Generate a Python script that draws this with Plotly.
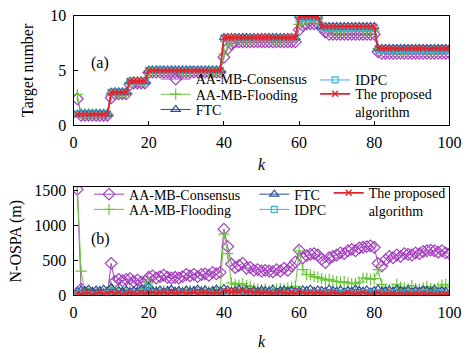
import plotly.graph_objects as go

k = list(range(1, 101))

# ---- (a) estimated target number ----
cons_a = [2.4, 0.9, 0.9, 0.9, 0.9, 0.9, 0.9, 0.9, 0.9, 2.5,
          2.85, 2.85, 2.85, 2.85, 3.7, 3.85, 3.85, 3.85, 3.85, 4.8,
          4.85, 4.85, 4.85, 4.85, 4.85, 4.85, 4.85, 4.85, 4.85, 4.85,
          4.85, 4.85, 4.85, 4.85, 4.85, 4.85, 4.85, 4.85, 4.85, 6.2,
          7.0, 7.4, 7.6, 7.6, 7.6, 7.6, 7.6, 7.6, 7.6, 7.6,
          7.6, 7.6, 7.6, 7.6, 7.6, 7.6, 7.6, 7.6, 7.6, 8.7,
          9.1, 9.25, 9.25, 9.25, 9.25, 8.9, 8.5, 8.3, 8.3, 8.3,
          8.3, 8.3, 8.3, 8.3, 8.3, 8.3, 8.3, 8.3, 8.3, 8.3,
          6.7, 6.55, 6.55, 6.55, 6.55, 6.55, 6.55, 6.55, 6.55, 6.55,
          6.55, 6.55, 6.55, 6.55, 6.55, 6.55, 6.55, 6.55, 6.55, 6.55]
flood_a = [2.8, 1.0, 1.0, 1.0, 1.0, 1.0, 1.0, 1.0, 1.0, 2.7,
           2.95, 2.95, 2.95, 2.95, 3.9, 3.95, 3.95, 3.95, 3.95, 4.9,
           4.95, 4.95, 4.95, 4.95, 4.95, 4.95, 4.95, 4.95, 4.95, 4.95,
           4.95, 4.95, 4.95, 4.95, 4.95, 4.95, 4.95, 4.95, 4.95, 6.5,
           7.3, 7.7, 7.85, 7.85, 7.85, 7.85, 7.85, 7.85, 7.85, 7.85,
           7.85, 7.85, 7.85, 7.85, 7.85, 7.85, 7.85, 7.85, 7.85, 9.2,
           9.6, 9.7, 9.7, 9.7, 9.7, 9.2, 8.8, 8.6, 8.6, 8.6,
           8.6, 8.6, 8.6, 8.6, 8.6, 8.6, 8.6, 8.6, 8.6, 8.6,
           7.0, 6.8, 6.8, 6.8, 6.8, 6.8, 6.8, 6.8, 6.8, 6.8,
           6.8, 6.8, 6.8, 6.8, 6.8, 6.8, 6.8, 6.8, 6.8, 6.8]
ftc_a = [1, 1, 1, 1, 1, 1, 1, 1, 1, 3,
         3, 3, 3, 3, 4, 4, 4, 4, 4, 5,
         5, 5, 5, 5, 5, 5, 5, 5, 5, 5,
         5, 5, 5, 5, 5, 5, 5, 5, 5, 8,
         8, 8, 8, 8, 8, 8, 8, 8, 8, 8,
         8, 8, 8, 8, 8, 8, 8, 8, 8, 10,
         10, 10, 10, 10, 10, 9, 9, 9, 9, 9,
         9, 9, 9, 9, 9, 9, 9, 9, 9, 9,
         7, 7, 7, 7, 7, 7, 7, 7, 7, 7,
         7, 7, 7, 7, 7, 7, 7, 7, 7, 7]
idpc_a = [1, 1, 1, 1, 1, 1, 1, 1, 1, 3,
          3, 3, 3, 3, 4, 4, 4, 4, 4, 5,
          5, 5, 5, 5, 5, 5, 5, 5, 5, 5,
          5, 5, 5, 5, 5, 5, 5, 5, 5, 7.9,
          7.95, 7.95, 7.95, 7.95, 7.95, 7.95, 7.95, 7.95, 7.95, 7.95,
          7.95, 7.95, 7.95, 7.95, 7.95, 7.95, 7.95, 7.95, 7.95, 9.7,
          9.8, 9.8, 9.8, 9.8, 9.8, 9.0, 8.85, 8.85, 8.85, 8.85,
          8.85, 8.85, 8.85, 8.85, 8.85, 8.85, 8.85, 8.85, 8.85, 8.85,
          6.95, 6.9, 6.9, 6.9, 6.9, 6.9, 6.9, 6.9, 6.9, 6.9,
          6.9, 6.9, 6.9, 6.9, 6.9, 6.9, 6.9, 6.9, 6.9, 6.9]
prop_a = [1, 1, 1, 1, 1, 1, 1, 1, 1, 3,
          3, 3, 3, 3, 4, 4, 4, 4, 4, 5,
          5, 5, 5, 5, 5, 5, 5, 5, 5, 5,
          5, 5, 5, 5, 5, 5, 5, 5, 5, 8,
          8, 8, 8, 8, 8, 8, 8, 8, 8, 8,
          8, 8, 8, 8, 8, 8, 8, 8, 8, 9.9,
          9.9, 9.9, 9.9, 9.9, 9.9, 9, 9, 9, 9, 9,
          9, 9, 9, 9, 9, 9, 9, 9, 9, 9,
          7, 7, 7, 7, 7, 7, 7, 7, 7, 7,
          7, 7, 7, 7, 7, 7, 7, 7, 7, 7]

# ---- (b) N-OSPA (m) ----
cons_b = [1520, 90, 40, 20, 10, 0, 0, 0, 10, 460,
          200, 230, 210, 230, 240, 200, 220, 190, 200, 260,
          280, 250, 270, 290, 260, 250, 260, 250, 270, 300,
          280, 300, 270, 300, 310, 290, 330, 310, 330, 950,
          700, 450, 400, 430, 460, 390, 400, 360, 370, 350,
          360, 350, 340, 370, 350, 390, 360, 420, 480, 650,
          540, 570, 590, 600, 580, 520, 470, 540, 560, 580,
          610, 600, 640, 660, 640, 680, 690, 700, 710, 690,
          460, 420, 510, 560, 540, 580, 560, 600, 590, 580,
          610, 600, 630, 640, 650, 640, 620, 640, 610, 600]
flood_b = [1560, 350, 40, 30, 20, 30, 20, 30, 40, 120,
           40, 30, 50, 40, 60, 40, 50, 70, 100, 180,
           70, 60, 50, 70, 60, 50, 40, 60, 50, 60,
           70, 60, 50, 60, 70, 50, 60, 50, 60, 880,
           600, 180, 160, 150, 170, 140, 130, 100, 90, 80,
           90, 70, 80, 90, 100, 90, 110, 120, 130, 640,
           370, 300, 300, 270, 260, 240, 220, 230, 210, 200,
           190, 200, 180, 170, 170, 190, 250, 250, 230, 240,
           370, 160, 70, 80, 90, 160, 120, 110, 100, 140,
           100, 90, 110, 130, 100, 90, 110, 150, 160, 120]
ftc_b = [60, 80, 70, 90, 60, 80, 70, 90, 60, 110,
         50, 70, 60, 80, 50, 70, 60, 90, 80, 130,
         70, 60, 80, 50, 70, 90, 60, 70, 50, 80,
         60, 70, 90, 60, 80, 50, 70, 90, 60, 100,
         80, 60, 70, 90, 60, 80, 50, 70, 60, 80,
         70, 60, 90, 50, 70, 80, 60, 70, 50, 60,
         80, 70, 90, 60, 80, 70, 60, 90, 70, 60,
         80, 50, 70, 60, 90, 70, 60, 80, 50, 70,
         90, 60, 70, 80, 60, 90, 70, 60, 80, 50,
         70, 60, 80, 70, 60, 90, 50, 70, 60, 30]
idpc_b = [20, 30, 10, 20, 0, 10, 20, 10, 30, 60,
          10, 20, 0, 10, 30, 20, 10, 40, 60, 110,
          30, 20, 10, 30, 20, 0, 10, 20, 30, 10,
          20, 30, 10, 20, 0, 30, 20, 10, 20, 60,
          40, 30, 20, 30, 10, 20, 40, 20, 10, 30,
          20, 40, 30, 20, 10, 30, 20, 30, 20, 40,
          30, 20, 40, 30, 20, 40, 30, 20, 30, 40,
          20, 30, 40, 20, 30, 20, 30, 40, 20, 30,
          40, 30, 20, 30, 40, 20, 30, 20, 40, 30,
          20, 30, 40, 20, 30, 20, 40, 30, 20, 10]
prop_b = [30, 20, 30, 40, 20, 30, 40, 20, 30, 50,
          30, 40, 20, 30, 40, 30, 20, 40, 30, 50,
          40, 30, 40, 50, 30, 40, 30, 40, 50, 30,
          40, 50, 30, 40, 50, 40, 30, 40, 30, 70,
          60, 50, 60, 50, 70, 50, 60, 40, 50, 40,
          50, 40, 30, 40, 50, 40, 30, 40, 30, 60,
          40, 30, 40, 30, 40, 30, 20, 30, 40, 30,
          20, 30, 40, 30, 20, 30, 40, 30, 20, 30,
          40, 20, 30, 20, 30, 20, 30, 20, 30, 20,
          30, 20, 30, 20, 30, 20, 20, 30, 20, 20]

names = ["AA-MB-Consensus", "AA-MB-Flooding", "FTC", "IDPC",
         "The proposed<br>algorithm"]
x_ticks = [0, 20, 40, 60, 80, 100]
ya_ticks = [0, 5, 10]
yb_ticks = [0, 500, 1000, 1500]

colors = ["#A43FBF", "#6CC63C", "#2A4D9C", "#3DB4D6", "#E3262E"]
symbols = ["diamond-open", "cross-thin-open", "triangle-up-open",
           "square-open", "x-thin-open"]
msizes = [9, 8, 8, 6, 6]
lwidths = [1, 1, 1, 1, 1.8]

FONT = "Liberation Serif"
W, H = 474, 353


def px_x(p):
    return p / W


def px_y(p):
    return 1 - p / H


fig = go.Figure()

series_a = [cons_a, flood_a, ftc_a, idpc_a, prop_a]
series_b = [cons_b, flood_b, ftc_b, idpc_b, prop_b]

# one legend box per entry, placed like the reference (text-left x, row-centre y)
leg_a = [(197, 75), (197, 91), (197, 107), (362, 76), (362, 100)]
leg_b = [(128, 196), (128, 212), (299, 196), (299, 212), (376, 204)]

legend_layout = {}
n = 0
for i in range(5):
    for ys, xa, ya, pos in [(series_a[i], "x", "y", leg_a[i]),
                            (series_b[i], "x2", "y2", leg_b[i])]:
        n += 1
        lname = "legend" if n == 1 else f"legend{n}"
        fig.add_trace(go.Scatter(
            x=k, y=ys, xaxis=xa, yaxis=ya, name=names[i], legend=lname,
            showlegend=True,
            mode="lines+markers", cliponaxis=True,
            line=dict(color=colors[i], width=lwidths[i]),
            marker=dict(symbol=symbols[i], size=msizes[i], color=colors[i],
                        line=dict(color=colors[i], width=1.2)),
        ))
        legend_layout[lname] = dict(
            x=px_x(pos[0] - 40), y=px_y(pos[1]), xanchor="left", yanchor="middle",
            bgcolor="rgba(0,0,0,0)", valign="top", visible=True,
            font=dict(family=FONT, size=14, color="black"),
            itemclick=False)

axis_common = dict(showline=True, linecolor="black", linewidth=1, mirror=True,
                   ticks="inside", ticklen=4, tickcolor="black",
                   showgrid=False, zeroline=False,
                   tickfont=dict(family=FONT, size=16, color="black"))

fig.update_layout(
    width=W, height=H, margin=dict(l=0, r=0, t=0, b=0),
    paper_bgcolor="white", plot_bgcolor="white", showlegend=True,
    font=dict(family=FONT, color="black"),
    xaxis=dict(domain=[px_x(72), px_x(461)], range=[0, 100], tickvals=x_ticks,
               anchor="y", ticklabelstandoff=3,
               title=dict(text="<i>k</i>", font=dict(size=16), standoff=8),
               **axis_common),
    yaxis=dict(domain=[px_y(123), px_y(8)], range=[0, 10], tickvals=ya_ticks,
               anchor="x", ticklabelstandoff=3,
               title=dict(text="Target number", font=dict(size=16), standoff=12),
               **axis_common),
    xaxis2=dict(domain=[px_x(72), px_x(461)], range=[0, 100], tickvals=x_ticks,
                anchor="y2", ticklabelstandoff=2,
                title=dict(text="<i>k</i>", font=dict(size=16), standoff=16),
                **axis_common),
    yaxis2=dict(domain=[px_y(302), px_y(188)], range=[0, 1555], tickvals=yb_ticks,
                anchor="x2", ticklabelstandoff=3,
                title=dict(text="N-OSPA (m)", font=dict(size=16), standoff=8),
                **axis_common),
    annotations=[
        dict(text="(a)", x=px_x(88), y=px_y(58), xref="paper", yref="paper",
             xanchor="left", yanchor="middle", showarrow=False,
             font=dict(family=FONT, size=16)),
        dict(text="(b)", x=px_x(88), y=px_y(243), xref="paper", yref="paper",
             xanchor="left", yanchor="middle", showarrow=False,
             font=dict(family=FONT, size=16)),
    ],
    **legend_layout,
)

fig.write_html("out.html")
